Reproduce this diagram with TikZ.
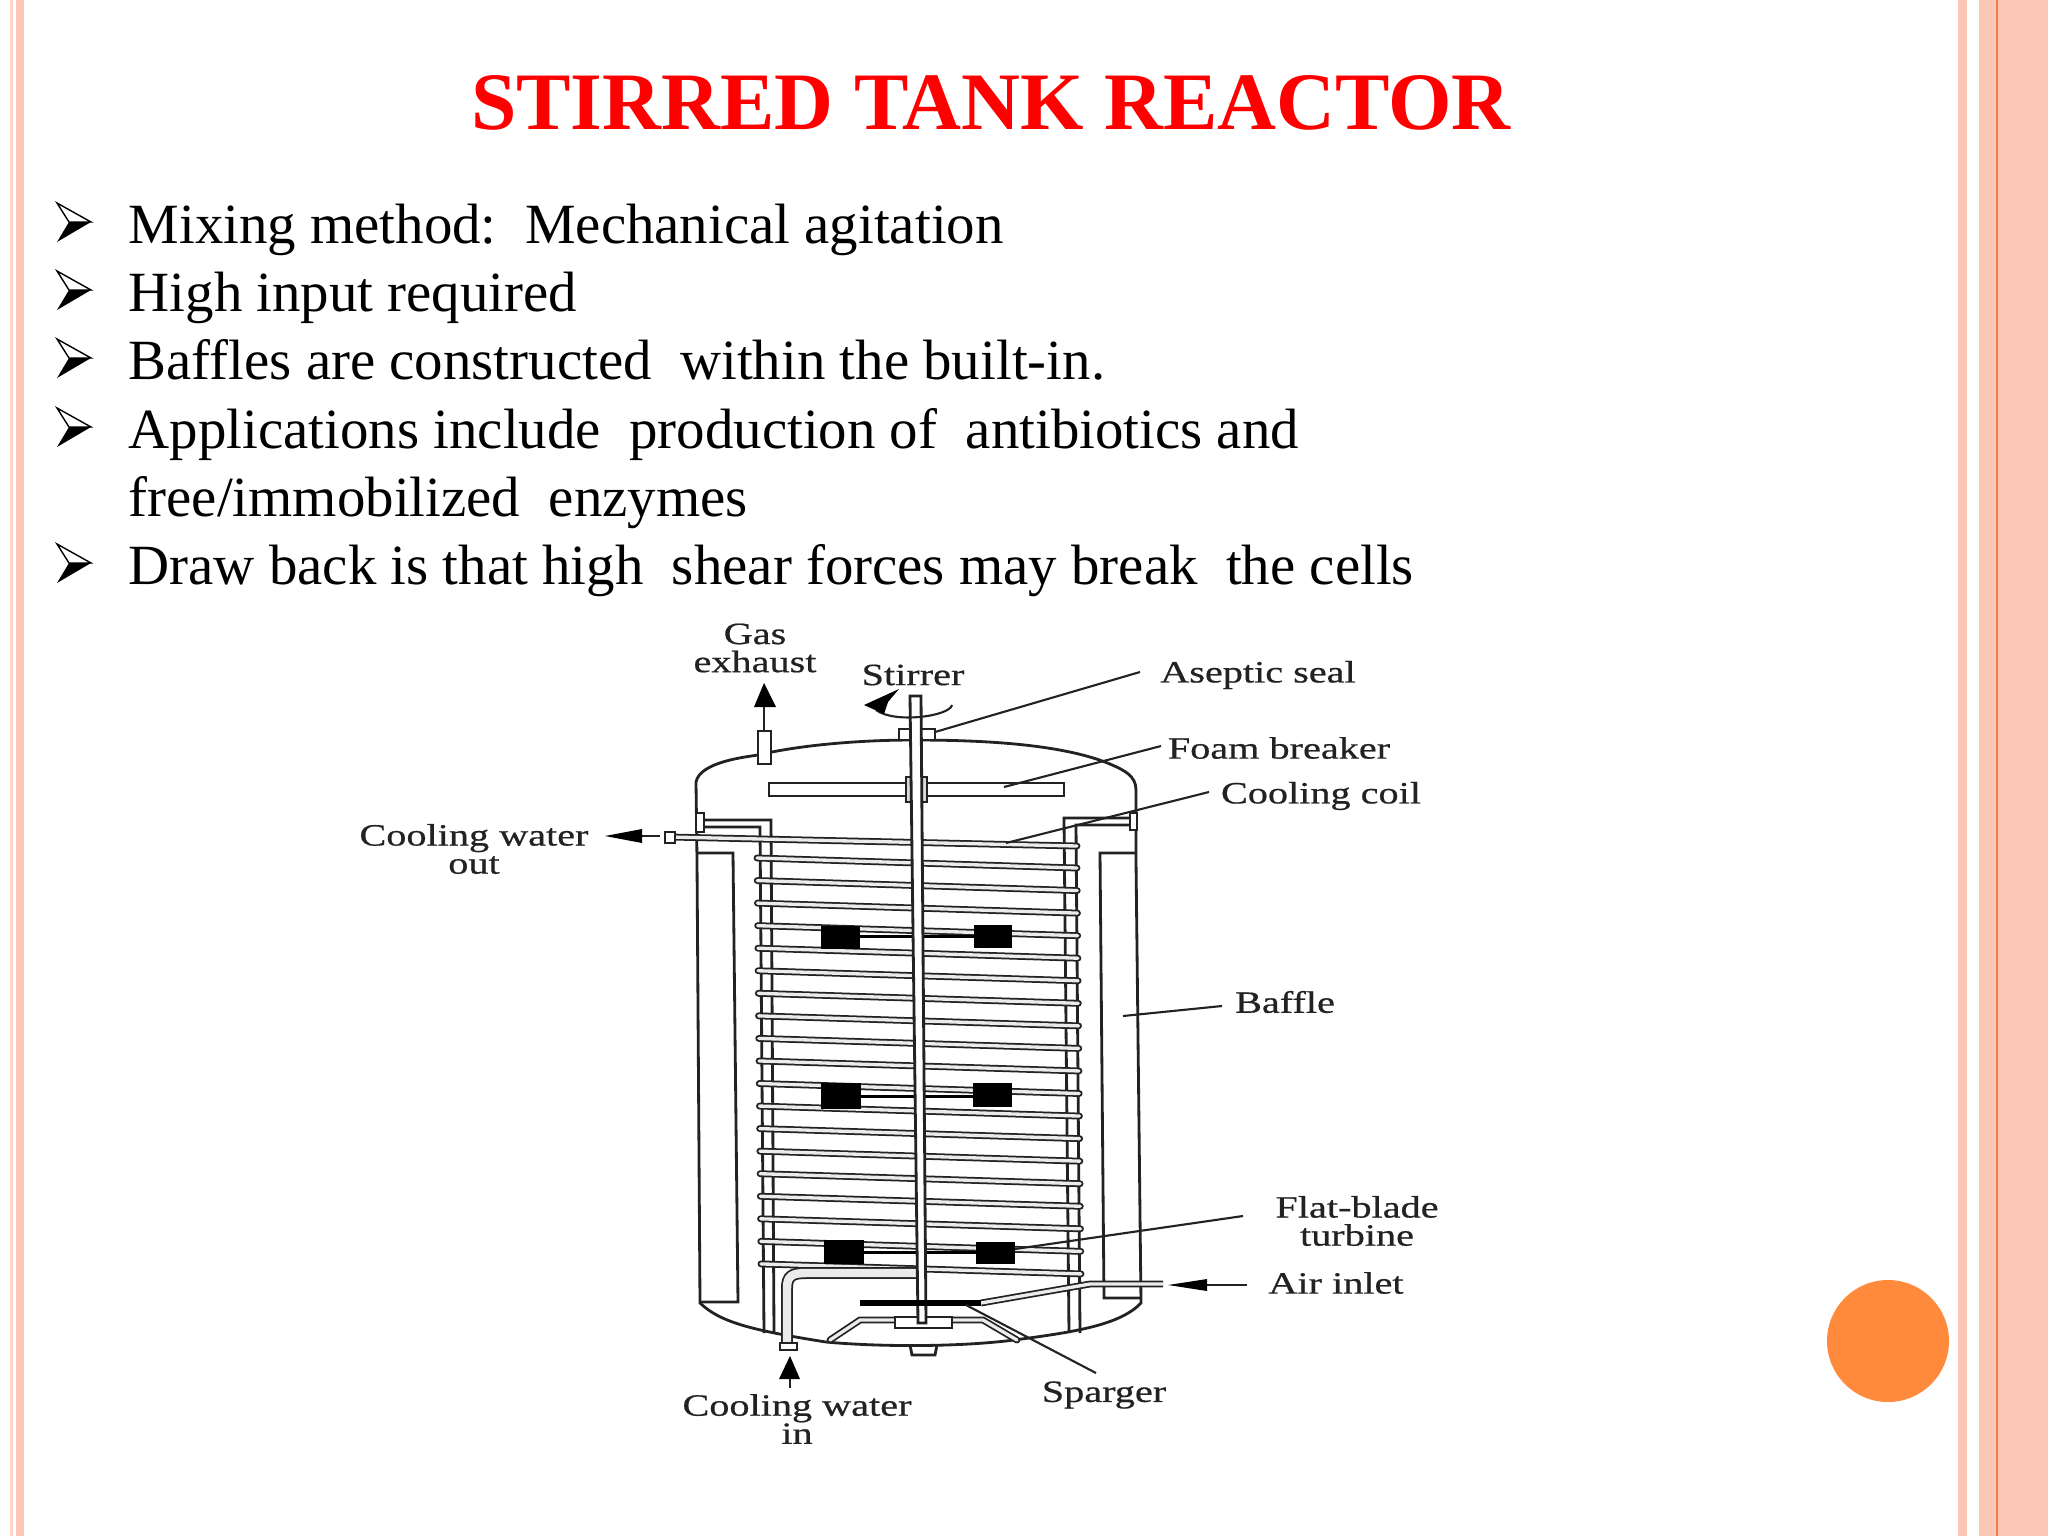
\documentclass[tikz,border=0pt]{standalone}
\usepackage{fontspec}
\setmainfont{Liberation Serif}
\newfontfamily\labelfont[FakeStretch=1.3,FakeBold=0.6]{Liberation Serif}
\usetikzlibrary{calc}
\definecolor{stripepink}{HTML}{FBC6B4}
\definecolor{stripeline}{HTML}{EE8048}
\definecolor{dotorange}{HTML}{FF8A3C}
\definecolor{inkgray}{HTML}{222222}
\tikzset{
    wall/.style={draw=inkgray, line width=0.8pt},
    leader/.style={draw=inkgray, line width=0.6pt},
    tube/.style={draw=inkgray, line width=0.5pt, double=white!92!black, double distance=0.95pt, line cap=round},
    widetube/.style={tube, double distance=2.4pt, line cap=butt},
    blade/.style={fill=black, draw=none},
    head/.style={fill=black, draw=none},
    tanklabel/.style={inner sep=0pt, align=center, text=inkgray, font=\labelfont\fontsize{8.8}{8}\selectfont},
    bodytext/.style={anchor=base west, inner sep=0pt, font=\fontsize{16.17}{19}\selectfont},
    bullet/.pic={
        \fill[black] (0,39) -- (34,19) -- (12,19) -- cycle;
        \draw[black, line width=0.4pt] (0,0) -- (34,19) -- (12,19) -- cycle;
    }
}
\begin{document}
\begin{tikzpicture}[x=0.01cm, y=-0.01cm]
    \useasboundingbox (0,0) rectangle (2048,1536);
    \fill[white] (0,0) rectangle (2048,1536);

    %page stripes
    \fill[stripepink!70] (10,0) rectangle (13,1536);
    \fill[stripepink] (16,0) rectangle (24,1536);
    \fill[stripepink] (1958,0) rectangle (1967,1536);
    \fill[stripepink] (1979,0) rectangle (2048,1536);
    \fill[stripeline] (1996,0) rectangle (1997.5,1536);
    \fill[dotorange] (1888,1341) circle (61);

    %heading and text
    \node[inner sep=0pt, text=red, font=\fontsize{23.2}{27}\selectfont\bfseries] (title) at (991,103) {STIRRED TANK REACTOR};
    \node[bodytext] (lineone) at (128,243) {Mixing method:\ \ Mechanical agitation};
    \node[bodytext] (linetwo) at (128,311) {High input required};
    \node[bodytext] (linethree) at (128,379) {Baffles are constructed\ \ within the built-in.};
    \node[bodytext] (linefour) at (128,448) {Applications include\ \ production of\ \ antibiotics and};
    \node[bodytext] (linefive) at (128,516) {free/immobilized\ \ enzymes};
    \node[bodytext] (linesix) at (128,584) {Draw back is that high\ \ shear forces may break\ \ the cells};
    \foreach \y in {203,271,339,408,544}
        \pic at (57,\y) {bullet};

    %tank shell
    \draw[wall] (697,860) -- (696,782) .. controls (700,762) and (745,757) .. (758,755) .. controls (800,745) and (860,740) .. (914,740) .. controls (990,740) and (1060,745) .. (1105,762) .. controls (1125,770) and (1136,776) .. (1136,790) -- (1136,860);
    \draw[wall] (697,860) -- (700,1303) .. controls (720,1322) and (750,1330) .. (826,1342) .. controls (880,1347) and (960,1347) .. (1014,1340) .. controls (1075,1332) and (1120,1325) .. (1141,1303) -- (1136,860);

    %baffles
    \draw[wall] (697,853) -- (733,853) -- (738,1302) -- (700,1302);
    \draw[wall] (1136,853) -- (1100,853) -- (1104,1298) -- (1141,1298);

    %coil supports
    \draw[wall] (704,820) -- (771,820) -- (774,1333);
    \draw[wall] (704,827) -- (760,827) -- (764,1333);
    \draw[wall] (1130,818) -- (1064,818) -- (1069,1333);
    \draw[wall] (1130,825) -- (1076,825) -- (1080,1333);
    \draw[wall, fill=white] (696,813) rectangle (704,832);
    \draw[wall, fill=white] (1130,813) rectangle (1137,830);

    %cooling coil
    \draw[tube] (670,837) -- (1077,846);
    \foreach \i in {0,...,18}
        \draw[tube] ({757+0.22*\i},{858+22.55*\i}) -- ({1077+0.22*\i},{868+22.55*\i});
    \draw[wall, fill=white] (665,832) rectangle (675,843);

    %cooling water inlet pipe
    \draw[widetube] (787,1345) -- (787,1288) .. controls (787,1276) and (792,1273) .. (806,1273) -- (925,1273);
    \draw[wall, fill=white] (780,1343) rectangle (797,1350);

    %turbine blades
    \fill[black] (860,934.5) rectangle (974,937.5);
    \fill[black] (861,1094.5) rectangle (973,1097.5);
    \fill[black] (864,1251) rectangle (976,1254);
    \fill[blade] (821,926) rectangle (860,949);
    \fill[blade] (974,925) rectangle (1012,948);
    \fill[blade] (821,1083) rectangle (861,1109);
    \fill[blade] (973,1083) rectangle (1012,1107);
    \fill[blade] (824,1240) rectangle (864,1264);
    \fill[blade] (976,1242) rectangle (1015,1264);

    %foam breaker
    \draw[wall, fill=white] (769,783) rectangle (1064,796);
    \draw[wall, fill=white!85!black] (906,777) rectangle (927,802);

    %sparger
    \draw[tube] (830,1340) -- (860,1320) -- (983,1320) -- (1017,1340);
    \draw[wall, fill=white] (895,1317) rectangle (952,1328);
    \draw[wall] (910,1345) -- (912,1355) -- (935,1355) -- (937,1345);

    %stirrer shaft and seal
    \draw[wall, fill=white] (899,729) rectangle (935,740);
    \draw[wall, fill=white] (910,696) -- (921,696) -- (926,1323) -- (918,1323) -- cycle;
    \draw[tube, line cap=butt] (981,1303) -- (1090,1284) -- (1163,1284);
    \fill[black] (860,1300) rectangle (981,1306);

    %gas exhaust
    \draw[wall, fill=white] (758,731) rectangle (771,764);
    \coordinate (gastop) at (764,731);
    \coordinate (gasend) at (764,705);
    \draw[leader] (gastop) -- (gasend);
    \fill[black] (764,683) -- (776,707) -- (754,707) -- cycle;

    %rotation arrow
    \coordinate (turnstart) at (952,705);
    \coordinate (turnend) at (876,710);
    \draw[leader] (turnstart) .. controls (950,716) and (895,724) .. (turnend);
    \fill[black] (864,705) -- (899,689) -- (888,702) -- (884,714) -- cycle;

    %labels
    \node[tanklabel] (gaslabel) at (755,648) {Gas\\exhaust};
    \node[tanklabel] (stirrerlabel) at (913,675) {Stirrer};
    \node[tanklabel] (seallabel) at (1258,675) {Aseptic seal};
    \node[tanklabel] (foamlabel) at (1279,748) {Foam breaker};
    \node[tanklabel] (coillabel) at (1321,796) {Cooling coil};
    \node[tanklabel] (outlabel) at (474,849) {Cooling water\\out};
    \node[tanklabel] (bafflelabel) at (1285,1002) {Baffle};
    \node[tanklabel] (turbinelabel) at (1357,1221) {Flat-blade\\turbine};
    \node[tanklabel] (airlabel) at (1336,1283) {Air inlet};
    \node[tanklabel] (spargerlabel) at (1104,1395) {Sparger};
    \node[tanklabel] (inlabel) at (797,1419) {Cooling water\\in};

    %leader lines
    \coordinate (sealend) at (935,732);
    \coordinate (sealstart) at (1140,672);
    \draw[leader] (sealstart) -- (sealend);
    \coordinate (foamend) at (1004,787);
    \coordinate (foamstart) at (1161,746);
    \draw[leader] (foamstart) -- (foamend);
    \coordinate (coilend) at (1006,843);
    \coordinate (coilstart) at (1209,792);
    \draw[leader] (coilstart) -- (coilend);
    \coordinate (baffleend) at (1123,1016);
    \coordinate (bafflestart) at (1222,1006);
    \draw[leader] (bafflestart) -- (baffleend);
    \coordinate (turbineend) at (1015,1249);
    \coordinate (turbinestart) at (1243,1216);
    \draw[leader] (turbinestart) -- (turbineend);
    \coordinate (spargerend) at (966,1305);
    \coordinate (spargerstart) at (1096,1373);
    \draw[leader] (spargerstart) -- (spargerend);

    %water and air arrows
    \coordinate (outstart) at (660,836);
    \coordinate (outend) at (640,836);
    \draw[leader] (outstart) -- (outend);
    \fill[black] (605,836) -- (642,829) -- (642,843) -- cycle;
    \coordinate (airstart) at (1247,1285);
    \coordinate (airend) at (1205,1285);
    \draw[leader] (airstart) -- (airend);
    \fill[black] (1168,1285) -- (1207,1279) -- (1207,1291) -- cycle;
    \coordinate (instart) at (790,1388);
    \coordinate (inend) at (790,1377);
    \draw[leader] (instart) -- (inend);
    \fill[black] (790,1356) -- (800,1379) -- (779,1379) -- cycle;
\end{tikzpicture}
\end{document}
